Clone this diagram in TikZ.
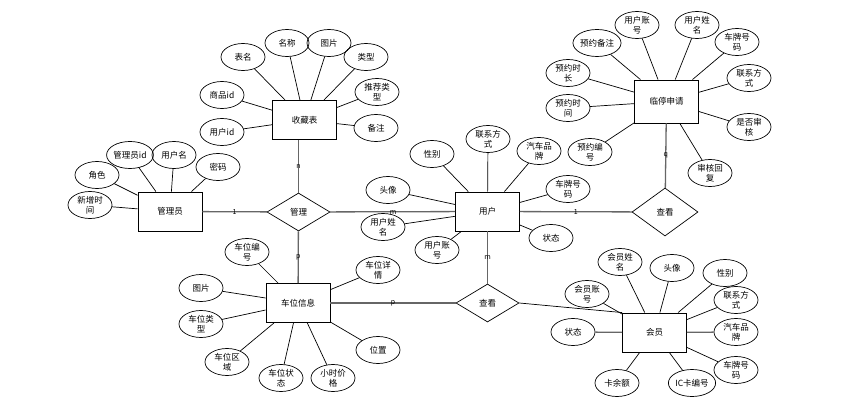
\documentclass[tikz,border=0pt]{standalone}
\usepackage{fontspec}
\setmainfont{Noto Sans CJK SC}
\usetikzlibrary{shapes.geometric}
\begin{document}
\begin{tikzpicture}[x=1pt,y=-1pt,
  every node/.style={font=\fontsize{8.5}{10}\selectfont, align=center},
  attr/.style={draw, ellipse, minimum width=44pt, minimum height=27pt, inner sep=0pt, line width=0.7pt},
  ent/.style={draw, rectangle, minimum width=64pt, minimum height=39pt, inner sep=0pt, line width=0.9pt},
  rel/.style={draw, diamond, minimum width=63pt, minimum height=38pt, inner sep=0pt, line width=0.7pt},
  aline/.style={draw, line width=0.7pt},
  rline/.style={draw, line width=1.3pt, black!60},
  card/.style={font=\fontsize{7}{8}\selectfont, inner sep=0pt, text=black}]
\useasboundingbox (0,0) rectangle (865,406);
% entities
\node[ent] (scb) at (304.5,120) {收藏表};
\node[ent] (gly) at (170,211.5) {管理员};
\node[rel] (gl) at (298.5,212) {管理};
\node[ent] (yh) at (487.5,211.5) {用户};
\node[ent, minimum height=43pt] (lt) at (666.5,101.5) {临停申请};
\node[rel, minimum width=66pt, minimum height=48pt] (ck1) at (665,212) {查看};
\node[ent] (cw) at (298,303) {车位信息};
\node[rel] (ck2) at (487.5,303) {查看};
\node[ent] (hy) at (654.5,332.5) {会员};
% relationship lines
\draw[rline] (gly) -- node[card]{1} (gl);
\draw[rline] (gl) -- (yh);
\node[card] at (393,213) {m};
\draw[rline] (yh) -- node[card]{1} (ck1);
\draw[rline] (lt) -- node[card]{q} (ck1);
\draw[rline] (gl.north) -- node[card]{n} (gl.north |- scb.south);
\draw[rline] (gl) -- node[card]{p} (cw);
\draw[rline] (cw) -- node[card]{p} (ck2);
\draw[rline] (yh) -- node[card]{m} (ck2);
\draw[aline] (ck2.east) -- (hy.north west);
% 收藏表 attributes
\node[attr] (a1) at (243,57) {表名};
\node[attr] (a2) at (287,43) {名称};
\node[attr] (a3) at (329,43) {图片};
\node[attr] (a4) at (366,57) {类型};
\node[attr] (a5) at (377,92) {推荐类\\型};
\node[attr] (a6) at (376,128) {备注};
\node[attr] (a7) at (222,95) {商品id};
\node[attr] (a8) at (222,132) {用户id};
\foreach \a in {a1,a2,a3,a4,a5,a6,a7,a8} \draw[aline] (\a) -- (scb);
% 管理员 attributes
\node[attr] (b1) at (97,175) {角色};
\node[attr] (b2) at (130,155) {管理员id};
\node[attr] (b3) at (174,155) {用户名};
\node[attr] (b4) at (218,167) {密码};
\node[attr] (b5) at (90,205) {新增时\\间};
\foreach \a in {b1,b2,b3,b4,b5} \draw[aline] (\a) -- (gly);
% 用户 attributes
\node[attr] (c1) at (488,139) {联系方\\式};
\node[attr] (c2) at (432,154) {性别};
\node[attr] (c3) at (539,151) {汽车品\\牌};
\node[attr] (c4) at (388,190) {头像};
\node[attr] (c5) at (568,189) {车牌号\\码};
\node[attr] (c6) at (383,227) {用户姓\\名};
\node[attr] (c7) at (437,250) {用户账\\号};
\node[attr] (c8) at (551,238) {状态};
\foreach \a in {c1,c2,c3,c4,c5,c6,c7,c8} \draw[aline] (\a) -- (yh);
% 临停申请 attributes
\node[attr] (d1) at (637,25) {用户账\\号};
\node[attr] (d2) at (697,25) {用户姓\\名};
\node[attr] (d3) at (597,43) {预约备注};
\node[attr] (d4) at (737,42) {车牌号\\码};
\node[attr] (d5) at (568,73) {预约时\\长};
\node[attr] (d6) at (749,78) {联系方\\式};
\node[attr] (d7) at (568,108) {预约时\\间};
\node[attr] (d8) at (749,127) {是否审\\核};
\node[attr] (d9) at (590,152) {预约编\\号};
\node[attr] (d10) at (710,173) {审核回\\复};
\foreach \a in {d1,d2,d3,d4,d5,d6,d7,d8,d9,d10} \draw[aline] (\a) -- (lt);
% 车位信息 attributes
\node[attr] (e1) at (247,252) {车位编\\号};
\node[attr] (e2) at (378,270) {车位详\\情};
\node[attr] (e3) at (201,288) {图片};
\node[attr] (e4) at (201,324) {车位类\\型};
\node[attr] (e5) at (378,350) {位置};
\node[attr] (e6) at (227,362) {车位区\\域};
\node[attr] (e7) at (281,378) {车位状\\态};
\node[attr] (e8) at (333,378) {小时价\\格};
\foreach \a in {e1,e2,e3,e4,e5,e6,e7,e8} \draw[aline] (\a) -- (cw);
% 会员 attributes
\node[attr] (f1) at (620,262) {会员姓\\名};
\node[attr] (f2) at (672,268) {头像};
\node[attr] (f3) at (725,273) {性别};
\node[attr] (f4) at (587,294) {会员账\\号};
\node[attr] (f5) at (736,300) {联系方\\式};
\node[attr] (f6) at (573,332) {状态};
\node[attr] (f7) at (736,332) {汽车品\\牌};
\node[attr] (f8) at (736,370) {车牌号\\码};
\node[attr] (f9) at (617,383) {卡余额};
\node[attr] (f10) at (692,383) {IC卡编号};
\foreach \a in {f1,f2,f3,f4,f5,f8,f9,f10} \draw[aline] (\a) -- (hy);
\draw[rline] (f6) -- (hy);
\draw[rline] (f7) -- (hy);
\end{tikzpicture}
\end{document}
